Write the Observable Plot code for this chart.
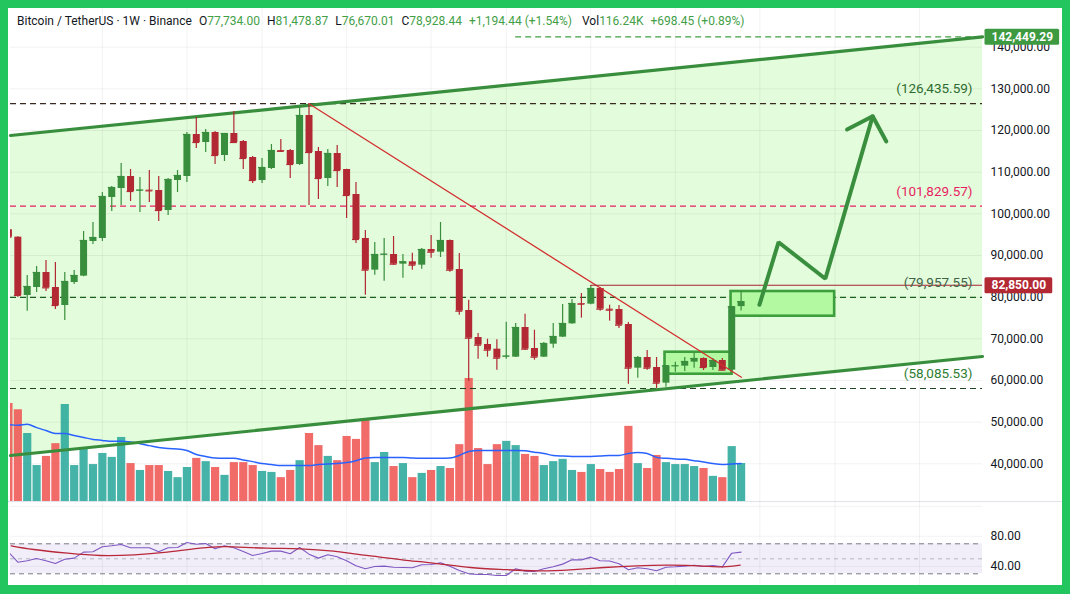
<!DOCTYPE html>
<html><head><meta charset="utf-8">
<script src="https://cdn.jsdelivr.net/npm/d3@7"></script>
<script src="https://cdn.jsdelivr.net/npm/@observablehq/plot@0.6"></script>
<style>
html,body{margin:0;padding:0;background:#fff;}
#wrap{position:relative;width:1070px;height:594px;overflow:hidden;background:#fff;font-family:Roboto,"Liberation Sans",sans-serif;}
.layer{position:absolute;left:0;width:1070px;}
.layer svg{display:block;max-width:none !important;}
#sep{position:absolute;left:8px;top:501px;width:1054px;height:1px;background:#e0e3eb;}
#header{position:absolute;left:17px;top:14px;height:16px;font-size:12px;line-height:14px;color:#131722;white-space:nowrap;display:flex;}
#header span.b{margin-right:7px;}
#header .g{color:#43a047;}
#frame{position:absolute;left:0;top:0;width:1070px;height:594px;box-sizing:border-box;border:solid #22c55e;border-width:8px 8px 9px 8px;pointer-events:none;}
</style></head>
<body>
<div id="wrap">
  <div class="layer" id="pA" style="top:0;height:501px"></div>
  <div class="layer" id="pB" style="top:0;height:501px"></div>
  <div class="layer" id="pC" style="top:0;height:501px"></div>
  <div id="sep"></div>
  <div class="layer" id="pD" style="top:501px;height:84px"></div>
  <div id="header">
    <span class="b">Bitcoin / TetherUS · 1W · Binance</span>
    <span class="b">O<span class="g">77,734.00</span></span>
    <span class="b">H<span class="g">81,478.87</span></span>
    <span class="b">L<span class="g">76,670.01</span></span>
    <span class="b">C<span class="g">78,928.44</span></span>
    <span class="b g" style="margin-right:10px">+1,194.44 (+1.54%)</span>
    <span class="b">Vol<span class="g">116.24K</span></span>
    <span class="b g">+698.45 (+0.89%)</span>
  </div>
  <div id="frame"></div>
</div>
<script>
// ---------- data (weekly candles, index 0 = partly hidden first week) ----------
const opens = [96200,94400,80400,82320,85920,82320,78000,83520,85040,93360,94080,103920,106080,108960,105520,105680,105600,100800,108000,108960,119040,117120,119520,114000,119280,117360,113520,108000,110880,115200,115200,111840,123600,114960,108480,114480,110640,104640,94080,86480,90200,90240,87920,88480,87680,91440,90800,93600,86640,76800,70320,68640,67520,65680,65600,72720,67680,65600,68720,70400,73600,78480,78320,82080,77120,77040,73440,62960,65520,63120,59360,63440,63440,64400,65280,63120,64800,62480,77734];
const highs = [97000,94500,85200,87360,88800,88320,85920,86400,95760,97920,105120,106560,112080,110640,108720,110400,108960,108480,110400,119520,123120,120240,119760,119300,124560,117600,113760,113280,116640,117840,115440,126000,126435.59,115920,115440,116400,110700,107520,96000,93120,94080,94560,90240,90560,91680,94800,97920,93700,90480,79280,71280,69920,69760,74000,73680,75920,72080,69120,73680,78240,79440,80880,82800,82320,78080,78000,73920,65760,67200,65520,63600,64400,65520,66560,65440,65280,65280,77800,81478.87];
const lows = [88300,80000,76640,81120,81360,77040,74400,83040,84900,92640,93360,100560,102000,102960,100320,102720,98160,99600,105120,107520,115680,114720,111840,112560,116880,110640,107280,107280,110640,114720,108480,111600,102000,103440,106560,106320,98880,92880,80480,85280,83840,87680,84560,86480,86720,89360,89520,86000,75680,59840,65120,65600,62480,65120,65500,67280,64880,65500,67760,70300,73500,74960,78160,76640,74240,72480,59120,60560,62480,58085.53,58400,62000,62160,62960,62400,62400,62400,62400,76670.01];
const closes = [94400,80400,82560,85920,82240,78000,83760,85200,93600,94320,104160,106320,108960,105360,105680,105520,100800,108240,109200,119040,117120,119520,114000,119280,117120,113280,108000,111120,115200,115000,111840,123600,114720,108480,114480,110400,104400,93840,86480,90240,90300,87920,88480,87680,91440,90800,93600,86480,76640,70160,68480,67280,65360,65840,72720,67520,65600,68880,70560,73680,78480,78320,82080,77120,76880,73280,62960,65520,62960,59360,63520,63520,64560,65280,63120,64800,62480,77700,78928.44];
const volumes = [300,281,208,110,138,177,297,110,165,113,147,135,196,116,95,110,110,92,73,104,132,122,104,80,119,119,110,92,89,73,95,125,208,171,138,125,199,190,248,119,150,107,116,73,86,95,107,101,174,376,162,113,174,184,171,144,138,110,122,129,95,89,113,98,89,98,230,116,101,141,119,113,113,107,101,77,73,168,116.24];
const volumeMA = [235,233,236,226,217,208,208,202,196,190,187,184,184,182,177,171,165,162,161,156,144,138,133,132,132,127,122,116,113,110,110,110,110,113,115,116,119,125,133,135,135,135,135,133,132,132,132,133,141,153,156,156,156,156,156,155,151,147,141,139,138,138,138,139,141,141,147,150,147,135,132,130,129,125,121,116,113,115,116];
const rsiValues = [59,45.5,47.3,50.4,47.3,43.7,49.5,50.9,58.9,59.3,66,67.3,69,64.7,64.7,64.7,59.3,64.7,65.1,71.7,69.5,70.4,63.3,67.3,64.7,59.7,54.4,57,60.2,60.2,56.7,65.1,56.2,50.9,55.3,52.7,47.3,40.7,36.7,39.7,40.2,38.8,38.4,38,42,42.4,44.6,40.2,34.4,30,29.1,29,27.8,27.8,36.7,33.6,33.1,36.7,39.3,42.9,48.6,48.6,52.2,47.3,47,43.3,35.3,38,36.7,34,38.8,39.3,40.2,41.5,39.7,41.1,39.3,57.5,58.9];
const rsiMaT = [0.3,2.7,6.3,9.8,13.4,16.9,20.4,22.2,24,27.5,31.1,34.6,36.8,39.6,42.1,45.6,49.2,52.7,56.3,59.8,63.4,66.9,70.5,74,76.1,77.9];
const rsiMaV = [67.3,62.4,57.5,54.4,55.3,58.9,64.1,66,66,64.1,63.3,60.2,56.5,52.2,48.2,43.7,38.4,35.7,34,35.3,38.4,40.7,41.5,40.2,39.3,41.5];

// drawn channel (rising trendlines), values at the left and right chart edges
const channelT = [0.22, 103.7];
const channelUpper = [118800, 142449.29];
const channelLower = [42000, 65760];
// horizontal levels
const levelValues = [142449.29, 126435.59, 101829.57, 79957.55, 58085.53];
const levelStartT = [54, 0.22, 0.22, 0.22, 0.22];
const levelColors = ["#43a047", "#3a2a22", "#e91e63", "#1b5e20", "#1f4222"];
const levelLabelColors = [null, "#2e6b30", "#e91e63", "#3f6347", "#2e7d32"];
// descending red trendline
const diagT = [32, 78.03];
const diagP = [126435.59, 60790];
// current price line
const lastPrice = 82850;
const lastPriceStartT = 62;
// consolidation boxes
const boxT1 = [69.9, 76.93], boxT2 = [77.04, 87.96];
const boxP1 = [61510, 75430], boxP2 = [66790, 81360];
// projected path
const pathT = [79.95, 81.99, 86.97, 92.01];
const pathP = [78170, 93190, 84410, 123430];
const headT = [89.28, 92.01, 93.46];
const headP = [120240, 123430, 117360];
// axes / grid
const priceTicks = [40000,50000,60000,70000,80000,90000,100000,110000,120000,130000,140000];
const gridT = [10,19,27,36,45,53,62,71,80,88,97];
const rsiTicks = [40, 80];
const rsiGrid = [40, 80, 120];
const rsiBands = [30, 70];

// ---------- build ----------
const xDomain = [0.22, 103.7];
const priceDomain = [30960, 151200];
const UP = "#388e3c", DOWN = "#b22833";
const fmt2 = d3.format(",.2f");
const font = "Roboto, 'Liberation Sans', sans-serif";

const weeks = d3.range(opens.length);
const candles = weeks.map(i => ({t: i, open: opens[i], high: highs[i], low: lows[i], close: closes[i],
  vol: volumes[i], volMa: volumeMA[i], rsi: rsiValues[i], up: closes[i] >= opens[i]}));
const channel = channelT.map((t, i) => ({t, upper: channelUpper[i], lower: channelLower[i]}));
const levels = levelValues.map((v, i) => ({v, start: levelStartT[i], color: levelColors[i], lc: levelLabelColors[i]}));
const diag = diagT.map((t, i) => ({t, p: diagP[i]}));
const boxes = boxT1.map((t, i) => ({t1: t, t2: boxT2[i], p1: boxP1[i], p2: boxP2[i]}));
const path = pathT.map((t, i) => ({t, p: pathP[i]}));
const head = headT.map((t, i) => ({t, p: headP[i]}));
const rsiMA = rsiMaT.map((t, i) => ({t, v: rsiMaV[i]}));

const base = {width: 1070, height: 501, marginTop: 0, marginBottom: 0, marginLeft: 10, marginRight: 88,
  x: {domain: xDomain, axis: null},
  style: {background: "transparent", fontFamily: font, fontSize: "12px", color: "#131722", overflow: "visible"}};

// A: background (channel fill + grid)
const pA = Plot.plot({...base, y: {domain: priceDomain, axis: null}, marks: [
  Plot.area(channel, {x1: "t", y1: "lower", y2: "upper", fill: "#e3fcdc"}),
  Plot.ruleY(priceTicks, {stroke: "#000", strokeOpacity: 0.055}),
  Plot.ruleX(gridT, {stroke: "#000", strokeOpacity: 0.05})
]});
document.getElementById("pA").appendChild(pA);

// B: volume
const pB = Plot.plot({...base, y: {domain: [0, 1533], axis: null}, marks: [
  Plot.ruleX(candles, {x: "t", y1: 0, y2: "vol", stroke: d => d.up ? "#26a69a" : "#ef5350", strokeOpacity: 0.86, strokeWidth: 8.2, clip: true}),
  Plot.line(candles, {x: "t", y: "volMa", stroke: "#2962ff", strokeWidth: 1.5, curve: "monotone-x", clip: true})
]});
document.getElementById("pB").appendChild(pB);

// C: price foreground
const pC = Plot.plot({...base, y: {domain: priceDomain, axis: null}, marks: [
  Plot.ruleY(levels, {y: "v", x1: "start", x2: xDomain[1], stroke: "color", strokeWidth: 1.2, strokeDasharray: "6,4"}),
  Plot.rect(boxes, {x1: "t1", x2: "t2", y1: "p1", y2: "p2", fill: "#b3f9a2", stroke: "#3c9f3c", strokeWidth: 2.6}),
  Plot.line(channel, {x: "t", y: "upper", stroke: UP, strokeWidth: 3.2}),
  Plot.line(channel, {x: "t", y: "lower", stroke: UP, strokeWidth: 3.2}),
  Plot.ruleX(candles, {x: "t", y1: "low", y2: "high", stroke: d => d.up ? UP : DOWN, strokeWidth: 1.2, clip: true}),
  Plot.ruleX(candles, {x: "t", y1: "open", y2: "close", stroke: d => d.up ? UP : DOWN, strokeWidth: 7, clip: true}),
  Plot.ruleY(candles, {y: "close", x1: d => d.t - 0.37, x2: d => d.t + 0.37, stroke: d => d.up ? UP : DOWN, strokeWidth: 1.2, clip: true}),
  Plot.line(diag, {x: "t", y: "p", stroke: "#d32f2f", strokeWidth: 1.3}),
  Plot.ruleY([lastPrice], {x1: lastPriceStartT, x2: xDomain[1], stroke: "#a8232f", strokeWidth: 1.1}),
  Plot.line(path, {x: "t", y: "p", stroke: "#3a8f3f", strokeWidth: 4, strokeLinejoin: "miter"}),
  Plot.line(head, {x: "t", y: "p", stroke: "#3a8f3f", strokeWidth: 4, strokeLinejoin: "miter"}),
  Plot.text(levels.filter(d => d.lc), {y: "v", text: d => "(" + fmt2(d.v) + ")", fill: "lc", frameAnchor: "right",
    textAnchor: "end", dx: -10, dy: -15, fontSize: 13.5}),
  Plot.axisY(priceTicks, {anchor: "right", tickSize: 0, tickPadding: 8, tickFormat: fmt2, fontSize: 12, label: null}),
  Plot.text([levelValues[0]], {y: d => d, text: d => fmt2(d), frameAnchor: "right", textAnchor: "start", dx: 9,
    fill: "white", fontWeight: "bold", fontSize: 12, className: "tag-green"}),
  Plot.text([lastPrice], {y: d => d, text: d => fmt2(d), frameAnchor: "right", textAnchor: "start", dx: 9,
    fill: "white", fontWeight: "bold", fontSize: 12, className: "tag-red"})
]});
document.getElementById("pC").appendChild(pC);

// D: RSI pane
const pD = Plot.plot({...base, height: 84, y: {domain: [14.4, 126.4], axis: null}, marks: [
  Plot.rect([0], {x1: xDomain[0], x2: xDomain[1], y1: rsiBands[0], y2: rsiBands[1], fill: "#7e57c2", fillOpacity: 0.1}),
  Plot.ruleY(rsiGrid, {stroke: "#000", strokeOpacity: 0.05}),
  Plot.ruleX(gridT, {stroke: "#000", strokeOpacity: 0.05}),
  Plot.ruleY(rsiBands, {stroke: "#787b86", strokeDasharray: "5,4"}),
  Plot.ruleY([50], {stroke: "#a3a6af", strokeDasharray: "4,4", strokeOpacity: 0.8}),
  Plot.line(candles, {x: "t", y: "rsi", stroke: "#7e57c2", strokeWidth: 1.1, clip: true}),
  Plot.line(rsiMA, {x: "t", y: "v", stroke: "#b8283a", strokeWidth: 1.3, curve: "natural", clip: true}),
  Plot.axisY(rsiTicks, {anchor: "right", tickSize: 0, tickPadding: 8, tickFormat: d3.format(".2f"), fontSize: 12, label: null})
]});
document.getElementById("pD").appendChild(pD);

// boxes behind the axis price tags
function tagBoxes(svg, cls, color) {
  const texts = svg.querySelectorAll(`.${cls} text, text.${cls}, [aria-label="${cls}"] text, text[aria-label="${cls}"]`);
  texts.forEach(t => {
    const b = t.getBBox();
    const r = document.createElementNS("http://www.w3.org/2000/svg", "rect");
    r.setAttribute("x", b.x - 7); r.setAttribute("y", b.y - 1);
    r.setAttribute("width", b.width + 13); r.setAttribute("height", b.height + 2);
    r.setAttribute("fill", color); r.setAttribute("rx", 1.5);
    const tr = t.getAttribute("transform"); if (tr) r.setAttribute("transform", tr);
    t.parentNode.insertBefore(r, t);
  });
}
tagBoxes(pC, "tag-green", "#3d9a40");
tagBoxes(pC, "tag-red", "#b22833");
</script>
</body></html>
